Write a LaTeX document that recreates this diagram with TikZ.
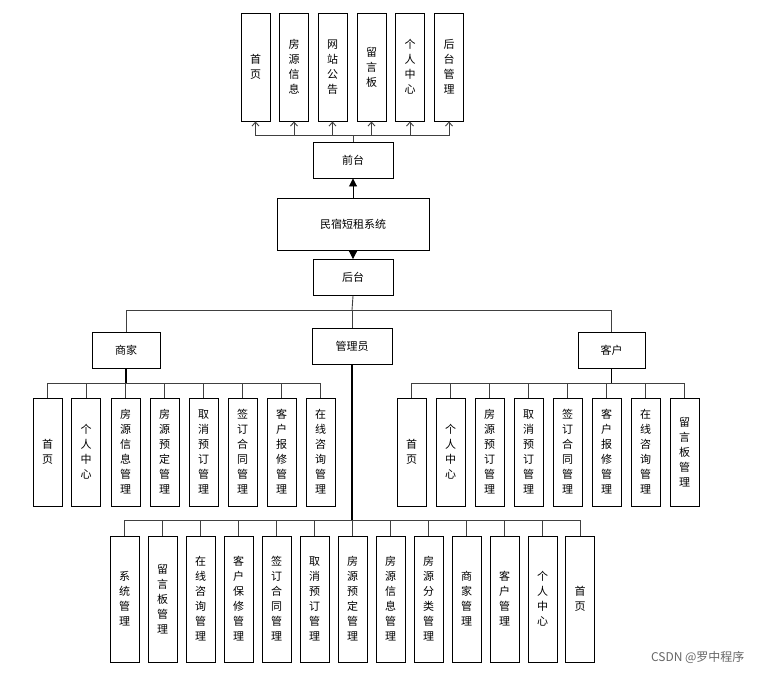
\documentclass[tikz,border=0pt]{standalone}
\usepackage{fontspec}
\setmainfont{Noto Sans CJK SC}
\usetikzlibrary{arrows.meta}
\begin{document}
\begin{tikzpicture}[x=1pt,y=-1pt,
  box/.style={draw,line width=0.9pt,inner sep=0pt,font=\fontsize{11}{15}\selectfont,align=center},
  vbox/.style={box,minimum width=29pt,minimum height=108pt},
  abox/.style={box,minimum width=29pt,minimum height=126pt},
  hbox/.style={box,minimum width=80pt,minimum height=36pt},
  ln/.style={line width=0.9pt,draw=black!75}]
\useasboundingbox (0,0) rectangle (762,675);
% top
\foreach \n/\x/\t in {t1/255.5/首\\页, t2/294/房\\源\\信\\息, t3/332.5/网\\站\\公\\告, t4/371.5/留\\言\\板, t5/410/个\\人\\中\\心, t6/449/后\\台\\管\\理}
  \node[vbox] (\n) at (\x,67) {\t};
\node[hbox] (front) at (353,160) {前台};
\node[box,minimum width=152pt,minimum height=52pt] (sys) at (353,224) {民宿短租系统};
\node[hbox] (back) at (353,277.5) {后台};
\coordinate (fb) at (353,135);
\draw[ln] (front.north) -- (fb);
\foreach \n in {t1,t2,t3,t4,t5,t6}
  \draw[ln,-{Straight Barb[length=4pt,width=7pt]}] (fb) -| (\n.south);
\draw[line width=0.9pt,-{Triangle[length=8pt,width=8pt]}] (sys.north) -- (front.south);
\draw[line width=0.9pt,-{Triangle[length=8pt,width=8pt]}] (sys.south) -- (back.north);
% second level
\node[box,minimum width=68pt,minimum height=36pt] (shang) at (126,350) {商家};
\node[hbox] (admin) at (352,346) {管理员};
\node[box,minimum width=67pt,minimum height=36pt] (kehu) at (611.5,350) {客户};
\coordinate (bb) at (352,310);
\draw[ln] (back.south) -- (bb);
\foreach \n in {shang,admin,kehu} \draw[ln] (bb) -| (\n.north);
% merchant
\coordinate (sb) at (126,383);
\draw[line width=1.3pt] (shang.south) -- (sb);
\foreach \n/\x/\t in {m1/47.5/首\\页, m2/86/个\\人\\中\\心, m3/125.5/房\\源\\信\\息\\管\\理, m4/164.5/房\\源\\预\\定\\管\\理, m5/203.5/取\\消\\预\\订\\管\\理, m6/242.5/签\\订\\合\\同\\管\\理, m7/281.5/客\\户\\报\\修\\管\\理, m8/320.5/在\\线\\咨\\询\\管\\理} {
  \node[vbox] (\n) at (\x,452) {\t};
  \draw[ln] (sb) -| (\n.north);}
% customer
\coordinate (cb) at (611.5,383);
\draw[line width=1.3pt] (kehu.south) -- (cb);
\foreach \n/\x/\t in {c1/411.5/首\\页, c2/450.5/个\\人\\中\\心, c3/489.5/房\\源\\预\\订\\管\\理, c4/528.5/取\\消\\预\\订\\管\\理, c5/567.5/签\\订\\合\\同\\管\\理, c6/606.5/客\\户\\报\\修\\管\\理, c7/645.5/在\\线\\咨\\询\\管\\理, c8/684.5/留\\言\\板\\管\\理} {
  \node[vbox] (\n) at (\x,452) {\t};
  \draw[ln] (cb) -| (\n.north);}
% admin
\coordinate (ab) at (352,520);
\draw[line width=1.6pt] (admin.south) -- (ab);
\foreach \n/\x/\t in {a1/124.5/系\\统\\管\\理, a2/162.5/留\\言\\板\\管\\理, a3/200.5/在\\线\\咨\\询\\管\\理, a4/238.5/客\\户\\保\\修\\管\\理, a5/276.5/签\\订\\合\\同\\管\\理, a6/314.5/取\\消\\预\\订\\管\\理, a7/352.5/房\\源\\预\\定\\管\\理, a8/390.5/房\\源\\信\\息\\管\\理, a9/428.5/房\\源\\分\\类\\管\\理, a10/466.5/商\\家\\管\\理, a11/504.5/客\\户\\管\\理, a12/542.5/个\\人\\中\\心, a13/580/首\\页} {
  \node[abox] (\n) at (\x,599) {\t};
  \draw[ln] (ab) -| (\n.north);}
\node[font=\fontsize{12}{14}\selectfont,text=black!60,anchor=east] (wm) at (748,657) {CSDN @罗中程序};
\end{tikzpicture}
\end{document}
